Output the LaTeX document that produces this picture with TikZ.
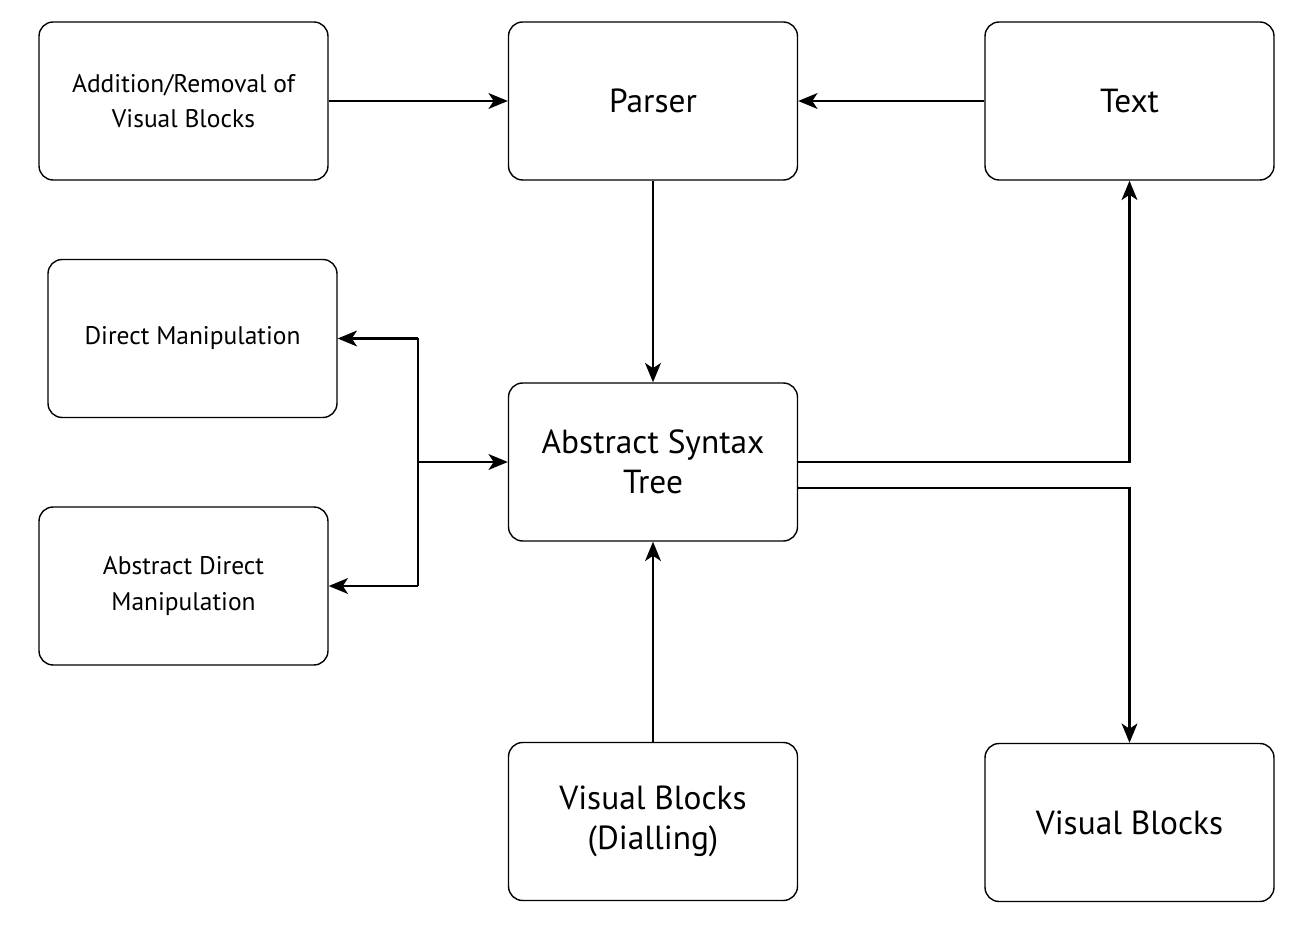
\documentclass[tikz,border=0pt]{standalone}
\usepackage{fontspec}
\setmainfont{PT Sans}
\usetikzlibrary{arrows.meta}
\begin{document}
\begin{tikzpicture}[x=0.02cm,y=-0.02cm,
  box/.style={draw,line width=0.8pt,rounded corners=8pt,minimum width=5.78cm,minimum height=3.16cm,align=center,inner sep=0pt},
  big/.style={font=\fontsize{19}{23}\selectfont},
  small/.style={font=\fontsize{14.5}{20}\selectfont},
  conn/.style={line width=1.4pt,-{Stealth[length=11pt,width=9pt,inset=3pt]}},
  ln/.style={line width=1.4pt}]
\useasboundingbox (0,0) rectangle (1308,928);
\node[box,small] (add) at (183.5,101) {Addition/Removal of\\Visual Blocks};
\node[box,big] (parser) at (653,101) {Parser};
\node[box,big] (text) at (1129.5,101) {Text};
\node[box,small] (dm) at (192.5,338.5) {Direct Manipulation};
\node[box,big] (ast) at (653,462) {Abstract Syntax\\Tree};
\node[box,small] (adm) at (183.5,586) {Abstract Direct\\Manipulation};
\node[box,big] (vbd) at (653,821.5) {Visual Blocks\\(Dialling)};
\node[box,big] (vb) at (1129.5,822.5) {Visual Blocks};
\coordinate (j) at (418,462);
\coordinate (jt) at (418,338.5);
\coordinate (jb) at (418,586);
\draw[conn] (add) -- (parser);
\draw[conn] (text) -- (parser);
\draw[conn] (parser) -- (ast);
\draw[conn] (vbd) -- (ast);
\draw[ln] (jt) -- (jb);
\draw[conn] (jt) -- (dm.east);
\draw[conn] (jb) -- (adm.east);
\draw[conn] (j) -- (ast.west);
\draw[conn] (ast.east |- 0,462) -| (text.south);
\draw[conn] (ast.east |- 0,488) -| (vb.north);
\end{tikzpicture}
\end{document}
